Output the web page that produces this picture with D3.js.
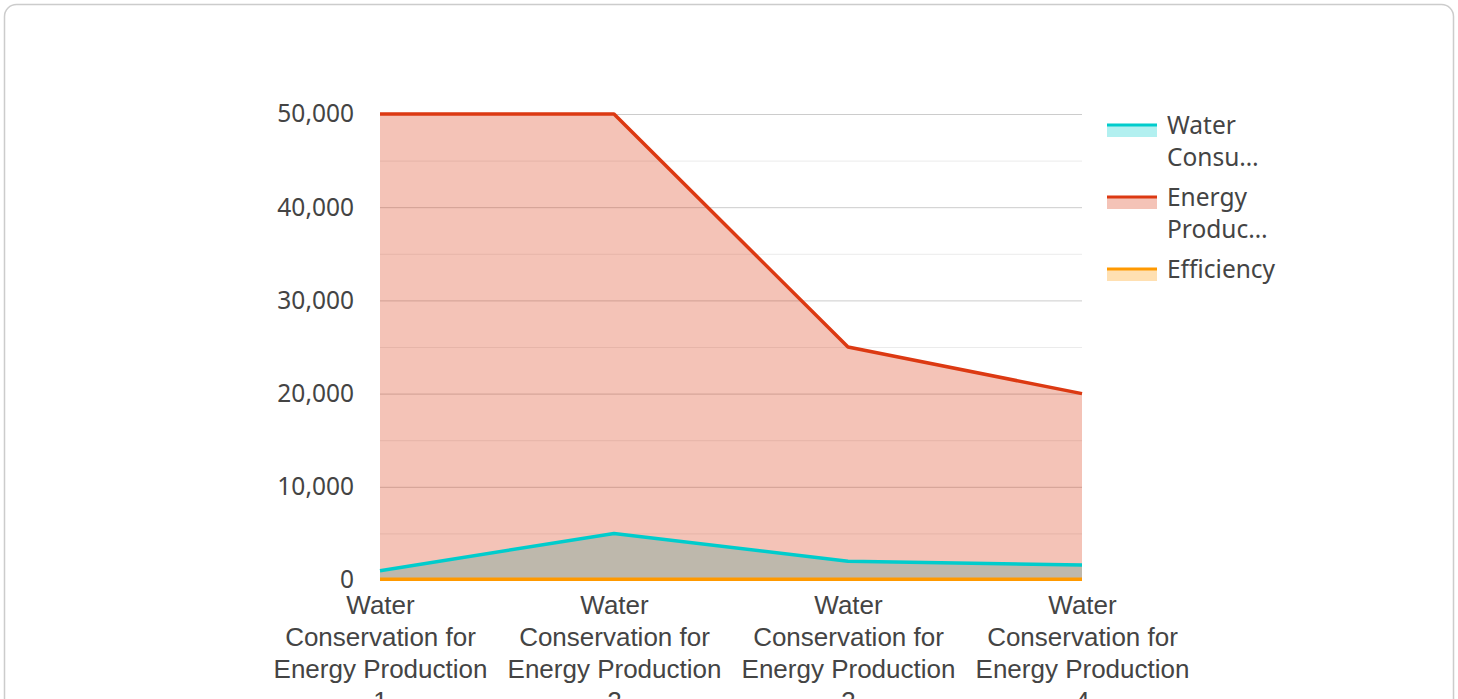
<!DOCTYPE html>
<html>
<head>
<meta charset="utf-8">
<script src="https://cdn.jsdelivr.net/npm/d3@7/dist/d3.min.js"></script>
<style>
  html, body { margin: 0; padding: 0; background: #ffffff; }
  svg { display: block; font-family: "Noto Sans", "Open Sans", sans-serif; }
</style>
</head>
<body>
<svg id="chart" width="1458" height="699"></svg>
<script>
// Categories along the x axis
const categories = [
  "Water Conservation for Energy Production 1",
  "Water Conservation for Energy Production 2",
  "Water Conservation for Energy Production 3",
  "Water Conservation for Energy Production 4"
];
// Category labels as they wrap under each tick
const categoryLines = [
  ["Water", "Conservation for", "Energy Production", "1"],
  ["Water", "Conservation for", "Energy Production", "2"],
  ["Water", "Conservation for", "Energy Production", "3"],
  ["Water", "Conservation for", "Energy Production", "4"]
];
// Series
const seriesNames = ["Water Consumption", "Energy Production", "Efficiency"];
const legendLabels = [["Water", "Consu…"], ["Energy", "Produc…"], ["Efficiency"]];
const waterConsumption = [1000, 5000, 2000, 1600];
const energyProduction = [50000, 50000, 25000, 20000];
const efficiency = [85, 90, 88, 92];
const seriesColors = ["#00cccc", "#dc3912", "#ff9900"];
// Y axis ticks
const yTicks = [0, 10000, 20000, 30000, 40000, 50000];
const yMinorTicks = [5000, 15000, 25000, 35000, 45000];

const AXIS_FONT = 24.5;
const CAT_FONT = 26;
const svg = d3.select("#chart");
const W = 1458, H = 699;

// Card frame
svg.append("rect")
  .attr("x", 4.5).attr("y", 4.5)
  .attr("width", W - 9).attr("height", H + 20)
  .attr("rx", 12).attr("ry", 12)
  .attr("fill", "#ffffff")
  .attr("stroke", "#cccccc").attr("stroke-width", 1.5);

const plot = { left: 380, right: 1082, top: 114, bottom: 580 };

const x = d3.scalePoint()
  .domain(categories)
  .range([plot.left, plot.right]);

const y = d3.scaleLinear()
  .domain([0, 50000])
  .range([plot.bottom, plot.top]);

const g = svg.append("g");

// Minor gridlines
g.append("g").selectAll("line")
  .data(yMinorTicks)
  .join("line")
  .attr("x1", plot.left).attr("x2", plot.right)
  .attr("y1", d => y(d) + 0.5).attr("y2", d => y(d) + 0.5)
  .attr("stroke", "#ebebeb").attr("stroke-width", 1);

// Major gridlines
g.append("g").selectAll("line")
  .data(yTicks.filter(d => d !== 0))
  .join("line")
  .attr("x1", plot.left).attr("x2", plot.right)
  .attr("y1", d => y(d) + 0.5).attr("y2", d => y(d) + 0.5)
  .attr("stroke", "#cccccc").attr("stroke-width", 1);

// Y axis labels
const yAxis = d3.axisLeft(y)
  .tickValues(yTicks)
  .tickFormat(d3.format(","))
  .tickSize(0)
  .tickPadding(26);
const yAxisG = g.append("g")
  .attr("transform", `translate(${plot.left},0)`)
  .call(yAxis);
yAxisG.select(".domain").remove();
yAxisG.selectAll("text")
  .attr("font-size", AXIS_FONT)
  .attr("fill", "#444444")
  .attr("font-family", "\"Noto Sans\", sans-serif");

// Series data
const seriesData = [waterConsumption, energyProduction, efficiency];

const area = d3.area()
  .x((d, i) => x(categories[i]))
  .y0(y(0))
  .y1(d => y(d));
const line = d3.line()
  .x((d, i) => x(categories[i]))
  .y(d => y(d));

// Areas in series order, each from zero
seriesData.forEach((vals, s) => {
  g.append("path")
    .datum(vals)
    .attr("d", area)
    .attr("fill", seriesColors[s])
    .attr("fill-opacity", 0.3);
});

// Baseline
g.append("line")
  .attr("x1", plot.left).attr("x2", plot.right)
  .attr("y1", y(0) + 0.5).attr("y2", y(0) + 0.5)
  .attr("stroke", "#333333").attr("stroke-width", 1);

// Lines
seriesData.forEach((vals, s) => {
  g.append("path")
    .datum(vals)
    .attr("d", line)
    .attr("fill", "none")
    .attr("stroke", seriesColors[s])
    .attr("stroke-width", 3.5)
    .attr("stroke-linejoin", "round");
});

// X axis labels
const xAxis = d3.axisBottom(x).tickSize(0).tickFormat("");
const xAxisG = g.append("g")
  .attr("transform", `translate(0,${plot.bottom})`)
  .call(xAxis);
xAxisG.select(".domain").remove();
xAxisG.selectAll(".tick").each(function(d, i) {
  const t = d3.select(this).append("text")
    .attr("text-anchor", "middle")
    .attr("font-size", CAT_FONT)
    .attr("fill", "#444444");
  categoryLines[i].forEach((ln, k) => {
    t.append("tspan")
      .attr("x", 0)
      .attr("y", 34 + k * 32)
      .text(ln);
  });
});

// Legend
const legendY = [125, 197, 269];
const legend = svg.append("g");
seriesNames.forEach((name, s) => {
  const lg = legend.append("g")
    .attr("transform", `translate(1107,${legendY[s]})`);
  lg.append("rect")
    .attr("x", 0).attr("y", -1)
    .attr("width", 50).attr("height", 13)
    .attr("fill", seriesColors[s]).attr("fill-opacity", 0.3);
  lg.append("line")
    .attr("x1", 0).attr("x2", 50)
    .attr("y1", 0).attr("y2", 0)
    .attr("stroke", seriesColors[s]).attr("stroke-width", 3);
  const t = lg.append("text")
    .attr("font-size", AXIS_FONT)
    .attr("fill", "#444444");
  t.append("title").text(name);
  legendLabels[s].forEach((ln, k) => {
    t.append("tspan")
      .attr("x", 60)
      .attr("y", 9 + k * 32)
      .text(ln);
  });
});
</script>
</body>
</html>
